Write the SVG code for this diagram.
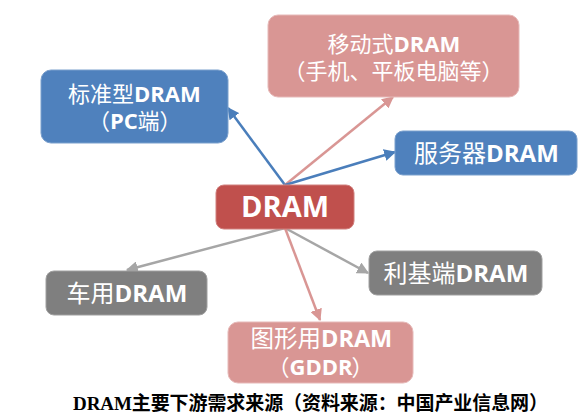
<svg xmlns="http://www.w3.org/2000/svg" width="583" height="415" viewBox="0 0 583 415">
<style>
.box{stroke-width:1}
.blue{fill:#4F81BD;stroke:#7BA0CD}
.pink{fill:#D99694;stroke:#E6B9B8}
.gray{fill:#7F7F7F;stroke:#A0A0A0}
.red{fill:#C0504D;stroke:#D0807E}
.c{fill:#FFFFFF;font-family:"Noto Sans CJK SC","Noto Sans",sans-serif;font-size:22px}
.b{fill:#FFFFFF;font-family:"Open Sans","Noto Sans",sans-serif;font-weight:bold;font-size:22px}
.e{text-anchor:end}
.m{text-anchor:middle}
.ln{fill:none;stroke-width:2.5}
.cap{font-family:"Liberation Serif","Noto Sans CJK SC",serif;font-weight:bold;font-size:19px;fill:#000}
</style>
<defs>
<marker id="ab" markerUnits="userSpaceOnUse" markerWidth="12" markerHeight="12" viewBox="0 0 10 10" refX="9" refY="5" orient="auto"><path d="M0,0 L10,5 L0,10 z" fill="#4A7EBB"/></marker>
<marker id="ap" markerUnits="userSpaceOnUse" markerWidth="12" markerHeight="12" viewBox="0 0 10 10" refX="9" refY="5" orient="auto"><path d="M0,0 L10,5 L0,10 z" fill="#D99694"/></marker>
<marker id="ag" markerUnits="userSpaceOnUse" markerWidth="12" markerHeight="12" viewBox="0 0 10 10" refX="9" refY="5" orient="auto"><path d="M0,0 L10,5 L0,10 z" fill="#A6A6A6"/></marker>
</defs>
<rect width="583" height="415" fill="#FFFFFF"/>
<g id="connectors">
<line class="ln" x1="285" y1="185" x2="228" y2="108" stroke="#4A7EBB" marker-end="url(#ab)"/>
<line class="ln" x1="285" y1="185" x2="393" y2="97" stroke="#D99694" marker-end="url(#ap)"/>
<line class="ln" x1="285" y1="185" x2="395" y2="152" stroke="#4A7EBB" marker-end="url(#ab)"/>
<line class="ln" x1="285" y1="228" x2="127" y2="270" stroke="#A6A6A6" marker-end="url(#ag)"/>
<line class="ln" x1="285" y1="228" x2="368" y2="273" stroke="#A6A6A6" marker-end="url(#ag)"/>
<line class="ln" x1="285" y1="228" x2="320" y2="320" stroke="#D99694" marker-end="url(#ap)"/>
</g>
<g id="pc">
<rect class="box blue" x="41" y="70" width="187" height="73" rx="10"/>
<text class="c e" x="134" y="102">标准型</text>
<text class="b" x="134" y="102">DRAM</text>
<text class="c e" x="110" y="129">（</text>
<text class="b" x="110" y="129">PC</text>
<text class="c" x="137.5" y="129">端）</text>
</g>
<g id="mobile">
<rect class="box pink" x="268" y="15" width="251" height="82" rx="10"/>
<text class="c e" x="393.5" y="52">移动式</text>
<text class="b" x="393.5" y="52">DRAM</text>
<text class="c m" x="393.5" y="79">（手机、平板电脑等）</text>
</g>
<g id="server">
<rect class="box blue" x="395" y="131" width="182" height="44" rx="8"/>
<text class="c e" x="486" y="162" style="font-size:24px">服务器</text>
<text class="b" x="486" y="162" style="font-size:24px">DRAM</text>
</g>
<g id="dram">
<rect class="box red" x="216" y="185" width="138" height="44" rx="8"/>
<text class="b m" x="285" y="217" style="font-size:29px">DRAM</text>
</g>
<g id="car">
<rect class="box gray" x="46" y="271" width="161" height="44" rx="8"/>
<text class="c e" x="114.5" y="302" style="font-size:24px">车用</text>
<text class="b" x="114.5" y="302" style="font-size:24px">DRAM</text>
</g>
<g id="niche">
<rect class="box gray" x="369" y="251" width="173" height="44" rx="8"/>
<text class="c e" x="455.5" y="282" style="font-size:24px">利基端</text>
<text class="b" x="455.5" y="282" style="font-size:24px">DRAM</text>
</g>
<g id="graphics">
<rect class="box pink" x="228" y="322" width="185" height="61" rx="10"/>
<text class="c e" x="321" y="347" style="font-size:23.5px">图形用</text>
<text class="b" x="321" y="347" style="font-size:23.5px">DRAM</text>
<text class="c e" x="289.5" y="375">（</text>
<text class="b" x="289.5" y="375">GDDR</text>
<text class="c" x="351.5" y="375">）</text>
</g>
<text class="cap" x="73" y="410" textLength="475" lengthAdjust="spacing">DRAM主要下游需求来源（资料来源：中国产业信息网）</text>
</svg>
